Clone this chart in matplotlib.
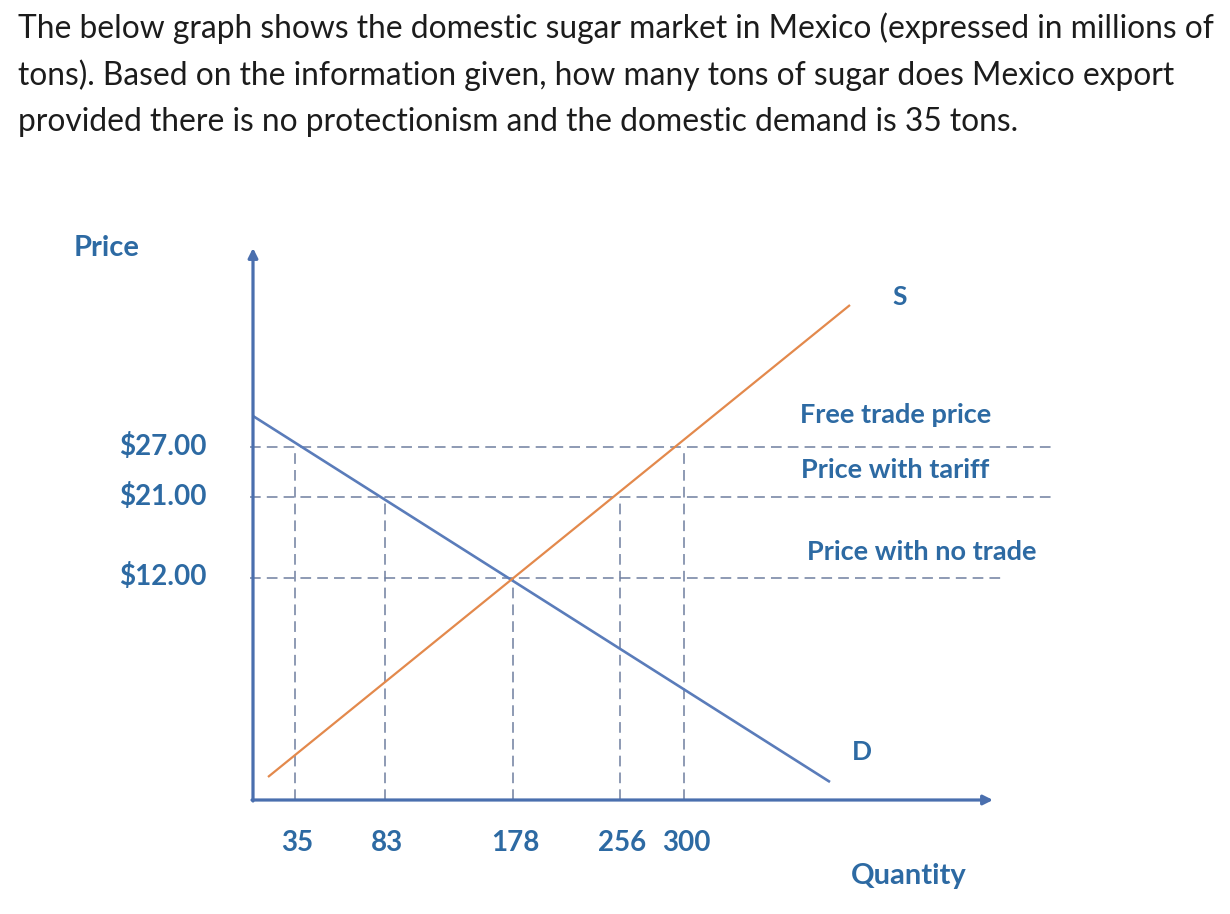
import matplotlib
matplotlib.use("Agg")
import matplotlib.pyplot as plt

# ---- data (schematic diagram, axis units = distance from origin) -----------
question = [
    "The below graph shows the domestic sugar market in Mexico (expressed in millions of",
    "tons). Based on the information given, how many tons of sugar does Mexico export",
    "provided there is no protectionism and the domestic demand is 35 tons.",
]

quantities = ["35", "83", "178", "256", "300"]
q_pos = [42, 132, 260, 367, 431]

prices = ["$27.00", "$21.00", "$12.00"]
p_pos = [353, 303, 222]

# top of each vertical guide (which price level it meets)
q_top = [353, 303, 222, 303, 353]
# right end of each horizontal guide
p_end = [802, 802, 748]

demand_x = [0, 577]
demand_y = [384, 18]
supply_x = [15, 597]
supply_y = [23, 495]

price_labels = ["Free trade price", "Price with tariff", "Price with no trade"]

# ---- colours ---------------------------------------------------------------
axis_col = "#4a6fae"
demand_col = "#5a7cba"
supply_col = "#e3894c"
guide_col = "#6f7f9f"
label_col = "#2d6aa3"

plt.rcParams["font.family"] = ["Lato", "DejaVu Sans"]

fig = plt.figure(figsize=(12.3, 9.14), dpi=100)

# question text
for i, linea in enumerate(question):
    fig.text(18 / 1230, 1 - (28 + 47 * i) / 914, linea, fontsize=22.9,
             color="#1c1c1c", va="center", ha="left")

W, H = 1230, 914
ox, oy = 253, 800
ax = fig.add_axes([ox / W, (H - oy) / H, 747 / W, 550 / H])
ax.set_xlim(0, 747)
ax.set_ylim(0, 550)
ax.axis("off")

# guides
for xp, top in zip(q_pos, q_top):
    ax.plot([xp, xp], [0, top], color=guide_col, lw=1.1, dashes=(7, 4),
            clip_on=False)
for yp, end in zip(p_pos, p_end):
    ax.plot([-3, end], [yp, yp], color=guide_col, lw=1.1, dashes=(7, 4),
            clip_on=False)

# curves
ax.plot(demand_x, demand_y, color=demand_col, lw=1.9, solid_capstyle="butt")
ax.plot(supply_x, supply_y, color=supply_col, lw=1.6, solid_capstyle="butt")

# axes with arrows
ax.annotate("", xy=(0, 552), xytext=(0, -1),
            arrowprops=dict(arrowstyle="-|>", color=axis_col, lw=2.3,
                            mutation_scale=14, shrinkA=0, shrinkB=0),
            annotation_clip=False)
ax.annotate("", xy=(740, 0), xytext=(-1, 0),
            arrowprops=dict(arrowstyle="-|>", color=axis_col, lw=2.3,
                            mutation_scale=14, shrinkA=0, shrinkB=0),
            annotation_clip=False)

# tick labels
bold = dict(color=label_col, fontweight="bold", clip_on=False)
for xp, lab in zip(q_pos, quantities):
    ax.text(xp + 2, -43, lab, ha="center", va="center", fontsize=20, **bold)
for yp, lab in zip(p_pos, prices):
    ax.text(-46, yp + 1, lab, ha="right", va="center", fontsize=20, **bold)

ax.text(-146, 552, "Price", ha="center", va="center", fontsize=21, **bold)
ax.text(656, -76, "Quantity", ha="center", va="center", fontsize=21, **bold)
ax.text(647, 503, "S", ha="center", va="center", fontsize=19, **bold)
ax.text(609, 48, "D", ha="center", va="center", fontsize=19, **bold)

ax.text(643, 385, price_labels[0], ha="center", va="center", fontsize=19.5, **bold)
ax.text(642, 330, price_labels[1], ha="center", va="center", fontsize=19.5, **bold)
ax.text(669, 248, price_labels[2], ha="center", va="center", fontsize=19.5, **bold)

fig.savefig("out.png", dpi=100, facecolor="white")
